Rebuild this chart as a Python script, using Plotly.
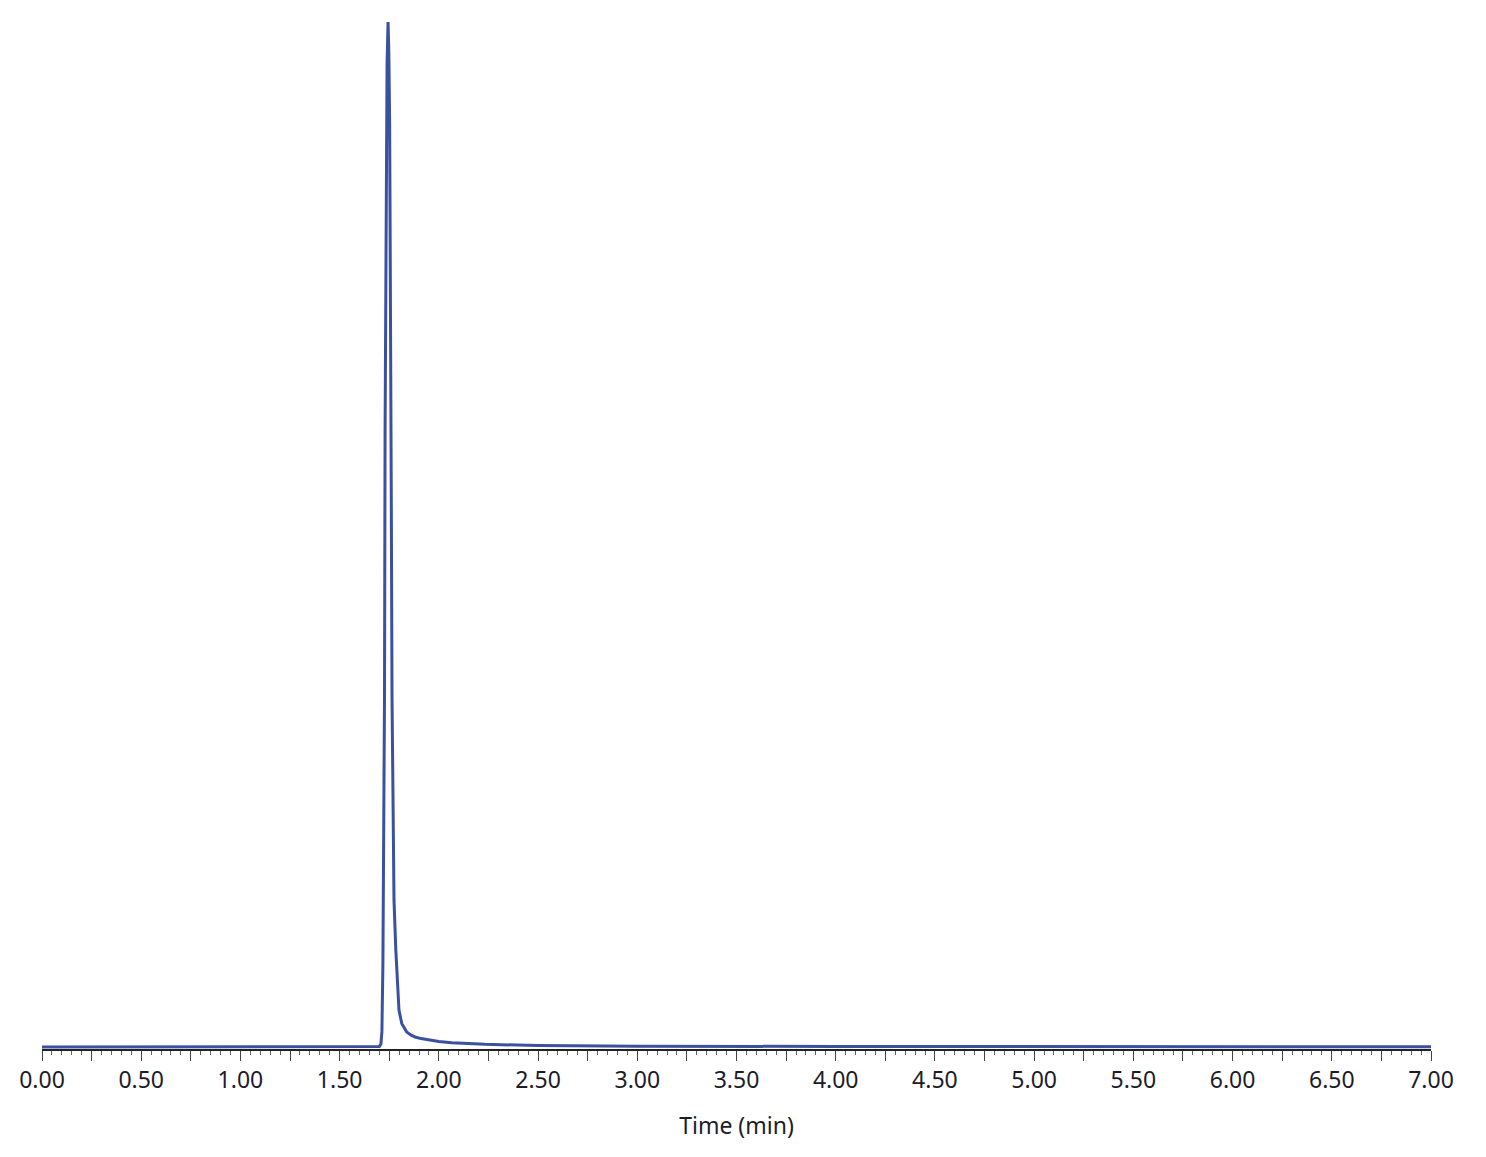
import plotly.graph_objects as go

# retention time (min) and detector signal (relative units)
time_min = [0.00, 0.50, 1.00, 1.50, 1.70, 1.708, 1.713, 1.718, 1.722, 1.726, 1.729,
            1.734, 1.739, 1.744, 1.748, 1.752, 1.756, 1.760, 1.764, 1.769, 1.774,
            1.783, 1.791, 1.799, 1.813, 1.838, 1.860, 1.880, 1.910, 1.945, 2.000,
            2.065, 2.150, 2.233, 2.500, 3.000, 4.000, 5.000, 6.000, 7.000]
signal = [0.00, 0.00, 0.01, 0.02, 0.05, 0.3, 1.5, 8.0, 20.0, 34.0, 60.0,
          85.0, 96.0, 100.0, 97.0, 90.0, 78.0, 55.0, 34.0, 24.0, 14.3,
          9.5, 6.2, 3.6, 2.3, 1.46, 1.15, 0.98, 0.82, 0.68, 0.53,
          0.42, 0.33, 0.26, 0.14, 0.08, 0.05, 0.03, 0.02, 0.02]

tick_vals = [i * 0.25 for i in range(29)]
tick_text = ["%.2f" % v if i % 2 == 0 else "" for i, v in enumerate(tick_vals)]

fig = go.Figure()
fig.add_trace(go.Scatter(
    x=time_min, y=signal, mode="lines",
    line=dict(color="#3a50a0", width=3),
    hoverinfo="x+y", showlegend=False
))

# the page body adds 8px, so margins are shifted to compensate
fig.update_layout(
    width=1486, height=1157,
    margin=dict(l=34, r=63, t=2, b=116),
    paper_bgcolor="white", plot_bgcolor="white",
    font=dict(family="Noto Sans", size=23, color="#1c1c28"),
    xaxis=dict(
        range=[0, 7], showgrid=False, zeroline=False, automargin=False,
        showline=True, linecolor="#222222", linewidth=1.5,
        tickmode="array", tickvals=tick_vals, ticktext=tick_text,
        ticks="outside", ticklen=10, tickwidth=1.2, tickcolor="#444444",
        minor=dict(tick0=0, dtick=0.05, ticks="outside", ticklen=4,
                   tickwidth=1, tickcolor="#666666", showgrid=False),
        title=dict(text="Time (min)", font=dict(size=23), standoff=24),
    ),
    yaxis=dict(range=[-0.195, 101.17], visible=False, automargin=False),
)

fig.write_html("out.html")
